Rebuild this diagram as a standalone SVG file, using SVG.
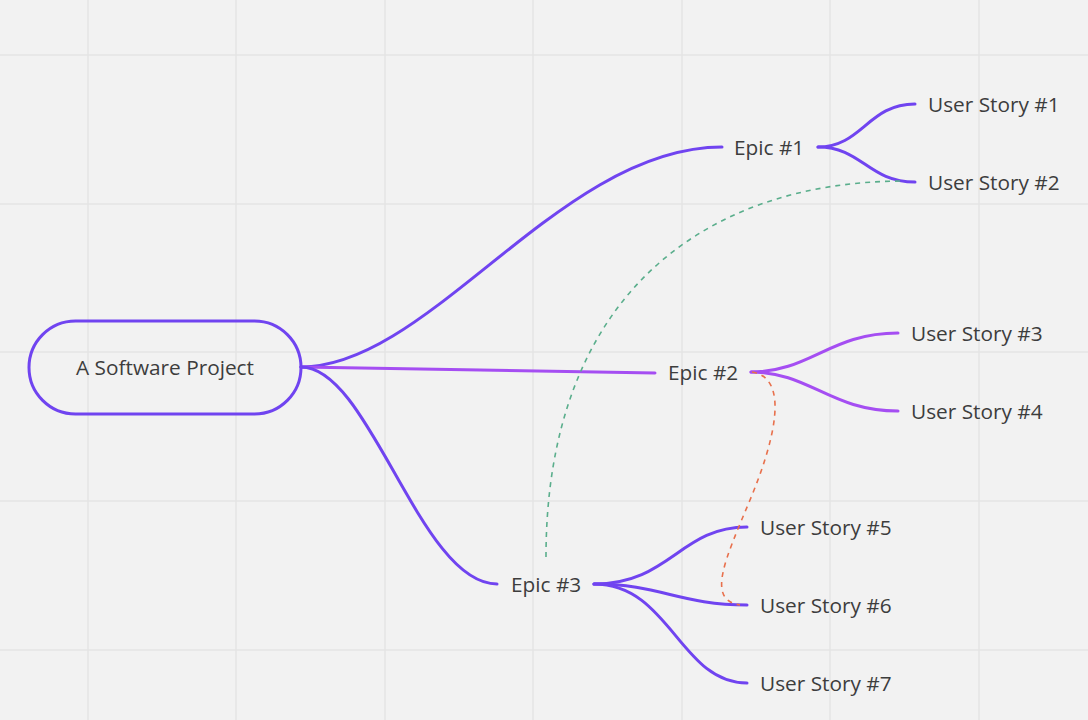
<svg xmlns="http://www.w3.org/2000/svg" width="1088" height="720" viewBox="0 0 1088 720">
<style>
.grid{stroke:#e4e4e4;stroke-width:1.5}
.lbl{font-family:"Open Sans","Liberation Sans",sans-serif;font-size:20.8px;fill:#3d3d3d;dominant-baseline:central}
.c1{fill:none;stroke:#7044f0;stroke-width:3;stroke-linecap:round}
.c2{fill:none;stroke:#a54ef2;stroke-width:3;stroke-linecap:round}
.dg{fill:none;stroke:#5aae8c;stroke-width:1.6;stroke-dasharray:5 5}
.do{fill:none;stroke:#e8704c;stroke-width:1.6;stroke-dasharray:5 5}
</style>
<rect width="1088" height="720" fill="#f2f2f2"/>
<g id="grid">
<line class="grid" x1="88" y1="0" x2="88" y2="720"/>
<line class="grid" x1="236" y1="0" x2="236" y2="720"/>
<line class="grid" x1="385" y1="0" x2="385" y2="720"/>
<line class="grid" x1="533" y1="0" x2="533" y2="720"/>
<line class="grid" x1="682" y1="0" x2="682" y2="720"/>
<line class="grid" x1="830" y1="0" x2="830" y2="720"/>
<line class="grid" x1="979" y1="0" x2="979" y2="720"/>
<line class="grid" x1="0" y1="55" x2="1088" y2="55"/>
<line class="grid" x1="0" y1="204" x2="1088" y2="204"/>
<line class="grid" x1="0" y1="352" x2="1088" y2="352"/>
<line class="grid" x1="0" y1="501" x2="1088" y2="501"/>
<line class="grid" x1="0" y1="650" x2="1088" y2="650"/>
</g>
<g id="connectors">
<path class="c1" d="M301,367 C430,367 560,147 722,147"/>
<path class="c2" d="M301,367 L655,373"/>
<path class="c1" d="M301,367 C370,367 420,584 497,584"/>
<path class="c1" d="M818,147 C862,147 868,104 915,104"/>
<path class="c1" d="M818,147 C862,147 868,182 915,182"/>
<path class="c2" d="M751,372 C810,372 830,333 898,333"/>
<path class="c2" d="M751,372 C810,372 830,411 898,411"/>
<path class="c1" d="M594,584 C670,584 680,527 747,527"/>
<path class="c1" d="M594,584 C660,584 680,605 747,605"/>
<path class="c1" d="M594,584 C670,584 680,683 747,683"/>
<path class="dg" d="M546,557 C546,300 700,181 905,181"/>
<path class="do" d="M752,372 C790,378 775,440 750,500 C725,560 706,600 740,605"/>
</g>
<g id="root">
<rect x="29" y="321" width="272" height="93" rx="46.5" fill="none" stroke="#7044f0" stroke-width="3"/>
<text class="lbl" x="165" y="366.5" text-anchor="middle">A Software Project</text>
</g>
<g id="epic1"><text class="lbl" x="734" y="146.5">Epic #1</text></g>
<g id="epic2"><text class="lbl" x="668" y="371.5">Epic #2</text></g>
<g id="epic3"><text class="lbl" x="511" y="583.5">Epic #3</text></g>
<g id="us1"><text class="lbl" x="928" y="103.5">User Story #1</text></g>
<g id="us2"><text class="lbl" x="928" y="181.5">User Story #2</text></g>
<g id="us3"><text class="lbl" x="911" y="332.5">User Story #3</text></g>
<g id="us4"><text class="lbl" x="911" y="410.5">User Story #4</text></g>
<g id="us5"><text class="lbl" x="760" y="526.5">User Story #5</text></g>
<g id="us6"><text class="lbl" x="760" y="604.5">User Story #6</text></g>
<g id="us7"><text class="lbl" x="760" y="682.5">User Story #7</text></g>
</svg>
